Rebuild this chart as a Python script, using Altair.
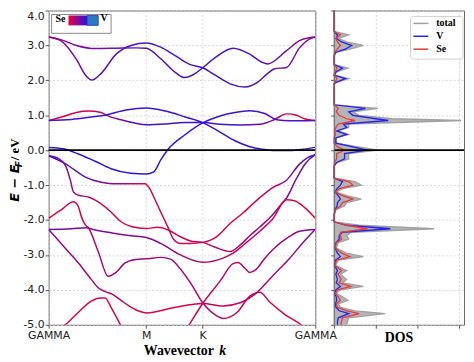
import altair as alt
import pandas as pd

# ---------------- axis data ----------------
k_ticks = [0.0, 0.5774, 0.9107, 1.5774]
k_labels = ["GAMMA", "M", "K", "GAMMA"]
e_ticks = [-5, -4, -3, -2, -1, 0, 1, 2, 3, 4]
fermi_level = [0.0]
dos_ticks = [0, 1, 2, 3]

# projection colours: weight 0 = Se, weight 1 = V
se_rgb = (236, 0, 60)
v_rgb = (36, 20, 232)

# ---------------- bands: k, E, (k, V-weight) colour stops ----------------
ca_k = [0, 0.076, 0.164, 0.223, 0.256, 0.311, 0.399, 0.487, 0.577, 0.663, 0.751, 0.839, 0.911, 0.985, 1.073, 1.161, 1.237, 1.296, 1.337, 1.407, 1.484, 1.542, 1.577]
ca_e = [3.24, 3.12, 2.6, 2.12, 2.01, 2.2, 2.75, 3.0, 3.07, 2.95, 2.7, 2.45, 2.36, 2.15, 1.9, 1.81, 1.95, 2.2, 2.33, 2.37, 2.93, 3.18, 3.24]
ca_w = [(0, 0.45), (0.25, 0.68), (0.6, 0.8), (1.0, 0.85), (1.3, 0.72), (1.577, 0.45)]

cb_k = [0, 0.076, 0.164, 0.281, 0.399, 0.516, 0.577, 0.663, 0.751, 0.803, 0.868, 0.911, 0.985, 1.091, 1.190, 1.261, 1.296, 1.407, 1.484, 1.542, 1.577]
cb_e = [3.24, 3.16, 3.0, 2.91, 2.92, 2.93, 2.92, 2.62, 2.22, 2.08, 2.2, 2.36, 2.65, 2.92, 2.75, 2.52, 2.47, 2.85, 3.14, 3.22, 3.24]
cb_w = [(0, 0.45), (0.3, 0.6), (0.58, 0.75), (0.9, 0.85), (1.25, 0.72), (1.577, 0.45)]

cr_k = [0, 0.076, 0.164, 0.235, 0.311, 0.334, 0.428, 0.516, 0.577, 0.692, 0.803, 0.911, 1.014, 1.132, 1.249, 1.337, 1.407, 1.466, 1.513, 1.577]
cr_e = [0.85, 0.95, 1.08, 1.12, 1.08, 1.02, 0.87, 0.77, 0.73, 0.75, 0.79, 0.79, 0.74, 0.72, 0.74, 0.88, 1.04, 1.0, 0.9, 0.85]
cr_w = [(0, 0.1), (0.25, 0.12), (0.4, 0.5), (0.577, 0.85), (1.1, 0.85), (1.3, 0.5), (1.4, 0.15), (1.577, 0.1)]

cq_k = [0, 0.135, 0.252, 0.340, 0.457, 0.577, 0.692, 0.809, 0.911, 1.014, 1.102, 1.190, 1.261, 1.337, 1.425, 1.513, 1.577]
cq_e = [0.85, 0.88, 0.95, 1.01, 1.15, 1.21, 1.12, 0.95, 0.79, 0.52, 0.27, 0.1, 0.03, -0.01, -0.01, 0.03, 0.08]
cq_w = [(0, 0.8), (0.577, 0.9), (1.577, 0.9)]

cp_k = [0, 0.088, 0.176, 0.281, 0.369, 0.487, 0.577, 0.622, 0.663, 0.702, 0.809, 0.911, 1.014, 1.102, 1.190, 1.278, 1.349, 1.425, 1.577]
cp_e = [0.08, 0.04, -0.11, -0.33, -0.53, -0.66, -0.68, -0.62, -0.28, 0.0, 0.45, 0.78, 0.98, 1.08, 1.13, 1.05, 0.87, 0.84, 0.85]
cp_w = [(0, 0.9), (0.9, 0.92), (1.3, 0.8), (1.577, 0.7)]

v2_k = [0, 0.100, 0.217, 0.311, 0.375, 0.487, 0.569, 0.598, 0.622, 0.663, 0.704, 0.739, 0.780, 0.839, 0.911, 0.997, 1.073, 1.149, 1.249, 1.325, 1.407, 1.484, 1.530, 1.577]
v2_e = [-0.16, -0.39, -0.77, -0.92, -0.96, -0.96, -0.96, -1.1, -1.34, -1.77, -2.19, -2.55, -2.67, -2.67, -2.64, -2.47, -2.1, -1.8, -1.36, -1.07, -0.86, -0.4, -0.22, -0.13]
v2_w = [(0, 0.88), (0.2, 0.72), (0.4, 0.45), (0.57, 0.12), (1.2, 0.08), (1.35, 0.3), (1.45, 0.6), (1.577, 0.88)]

v3_k = [0, 0.059, 0.100, 0.129, 0.147, 0.176, 0.235, 0.276, 0.369, 0.428, 0.493, 0.577, 0.645, 0.704, 0.780, 0.839, 0.911, 0.985, 1.073, 1.132, 1.190, 1.249, 1.325, 1.384, 1.407, 1.466, 1.519, 1.577]
v3_e = [-0.16, -0.24, -0.44, -0.87, -1.2, -1.29, -1.34, -1.43, -1.77, -2.05, -2.19, -2.24, -2.21, -2.28, -2.48, -2.6, -2.64, -2.78, -2.9, -2.72, -2.45, -2.2, -1.85, -1.5, -1.37, -0.81, -0.38, -0.13]
v3_w = [(0, 0.8), (0.12, 0.45), (0.3, 0.15), (0.577, 0.1), (0.911, 0.2), (1.2, 0.4), (1.4, 0.5), (1.577, 0.72)]

v4_k = [0, 0.135, 0.223, 0.264, 0.375, 0.487, 0.577, 0.663, 0.780, 0.911, 1.032, 1.091, 1.161, 1.249, 1.325, 1.407, 1.454, 1.513, 1.577]
v4_e = [-2.27, -2.25, -2.22, -2.27, -2.37, -2.45, -2.5, -2.67, -3.0, -3.21, -3.09, -2.95, -2.68, -2.32, -1.97, -1.42, -1.45, -1.64, -1.95]
v4_w = [(0, 0.6), (0.577, 0.55), (0.911, 0.3), (1.2, 0.2), (1.4, 0.06), (1.577, 0.04)]

v5_k = [0, 0.076, 0.147, 0.176, 0.194, 0.217, 0.235, 0.293, 0.352, 0.399, 0.452, 0.516, 0.577, 0.663, 0.721, 0.762, 0.839, 0.911, 0.997, 1.032, 1.114, 1.190, 1.231, 1.249, 1.308, 1.396, 1.484, 1.577]
v5_e = [-1.95, -1.7, -1.48, -1.62, -1.91, -2.14, -2.22, -2.9, -3.61, -3.5, -3.23, -3.13, -3.11, -3.07, -3.12, -3.3, -3.8, -4.37, -4.75, -4.82, -4.65, -4.18, -4.08, -4.07, -4.35, -4.7, -4.97, -5.35]
v5_w = [(0, 0.04), (0.15, 0.06), (0.25, 0.3), (0.45, 0.4), (0.577, 0.38), (0.9, 0.25), (1.2, 0.15), (1.577, 0.1)]

v6_k = [0, 0.088, 0.176, 0.252, 0.293, 0.334, 0.375, 0.428, 0.475, 0.528, 0.577, 0.739, 0.911, 1.032, 1.132, 1.231, 1.278, 1.325, 1.425, 1.513, 1.577]
v6_e = [-2.27, -2.75, -3.23, -3.7, -3.94, -4.05, -4.12, -4.3, -4.46, -4.6, -4.66, -4.51, -4.39, -4.46, -4.37, -4.08, -3.85, -3.6, -3.1, -2.6, -2.27]
v6_w = [(0, 0.55), (0.3, 0.3), (0.577, 0.06), (0.911, 0.12), (1.3, 0.3), (1.577, 0.55)]

v7_k = [0, 0.047, 0.088, 0.164, 0.252, 0.305, 0.334, 0.369, 0.428, 0.487, 0.577, 0.721, 0.821, 0.911, 1.014, 1.091, 1.120, 1.161, 1.190, 1.226, 1.278, 1.325, 1.425, 1.484, 1.577]
v7_e = [-5.3, -5.1, -5.03, -4.7, -4.32, -4.23, -4.23, -4.5, -5.03, -5.5, -6.3, -5.8, -5.08, -4.39, -3.75, -3.25, -3.22, -3.38, -3.5, -3.42, -3.1, -2.85, -2.47, -2.32, -2.27]
v7_w = [(0, 0.05), (0.5, 0.08), (0.911, 0.18), (1.2, 0.3), (1.577, 0.55)]

band_list = [
    (ca_k, ca_e, ca_w), (cb_k, cb_e, cb_w), (cr_k, cr_e, cr_w), (cq_k, cq_e, cq_w),
    (cp_k, cp_e, cp_w), (v2_k, v2_e, v2_w), (v3_k, v3_e, v3_w), (v4_k, v4_e, v4_w),
    (v5_k, v5_e, v5_w), (v6_k, v6_e, v6_w), (v7_k, v7_e, v7_w),
]

# ---------------- DOS ----------------
dos_e = [4.0, 3.4, 3.3, 3.2, 3.1, 3.0, 2.9, 2.8, 2.7, 2.45, 2.35, 2.25, 2.15, 2.05, 1.95, 1.9, 1.3, 1.2, 1.1, 1.0, 0.9, 0.85, 0.75, 0.65, 0.55, 0.45, 0.35, 0.2, 0.1, 0.0, -0.1, -0.25, -0.35, -0.45, -0.8, -0.9, -1.0, -1.1, -1.2, -1.3, -1.4, -1.5, -1.6, -1.7, -1.85, -2.05, -2.15, -2.25, -2.35, -2.45, -2.55, -2.65, -2.8, -2.95, -3.05, -3.15, -3.3, -3.45, -3.55, -3.7, -3.8, -3.9, -4.0, -4.1, -4.2, -4.3, -4.4, -4.5, -4.6, -4.68, -4.8, -4.9, -5.0]
dos_total = [0, 0, 0.35, 0.1, 0.3, 0.7, 0.4, 0.05, 0, 0, 0.33, 0.08, 0, 0.35, 0.08, 0, 0, 1.05, 0.45, 0.6, 1.4, 3.05, 0.35, 0.35, 0.08, 0.35, 0.05, 0.05, 0.55, 1.05, 0.35, 0.35, 0.08, 0, 0, 0.5, 0.65, 0.2, 0.05, 0.3, 0.65, 0.3, 0.25, 0.05, 0, 0, 0.6, 2.4, 0.4, 0.3, 0.35, 0.1, 0.05, 0.3, 0.7, 0.1, 0.03, 0.3, 0.15, 0.3, 0.2, 0.7, 0.15, 0.05, 0.2, 0.33, 0.1, 0.15, 0.5, 1.22, 0.35, 0.32, 0.3]
dos_v = [0, 0, 0.08, 0.05, 0.18, 0.42, 0.28, 0.03, 0, 0, 0.2, 0.05, 0, 0.27, 0.06, 0, 0, 0.75, 0.35, 0.45, 1.0, 1.3, 0.22, 0.3, 0.06, 0.3, 0.04, 0.04, 0.42, 0.8, 0.25, 0.25, 0.06, 0, 0, 0.2, 0.15, 0.07, 0.02, 0.1, 0.15, 0.08, 0.07, 0.02, 0, 0, 0.3, 1.35, 0.2, 0.12, 0.12, 0.04, 0.02, 0.08, 0.15, 0.03, 0.01, 0.08, 0.04, 0.08, 0.05, 0.15, 0.04, 0.01, 0.05, 0.06, 0.03, 0.04, 0.12, 0.35, 0.1, 0.08, 0.08]
dos_se = [0, 0, 0.15, 0.04, 0.08, 0.15, 0.08, 0.01, 0, 0, 0.07, 0.02, 0, 0.07, 0.02, 0, 0, 0.1, 0.05, 0.12, 0.3, 0.5, 0.1, 0.04, 0.01, 0.03, 0, 0, 0.08, 0.25, 0.06, 0.06, 0.01, 0, 0, 0.35, 0.45, 0.12, 0.03, 0.2, 0.45, 0.2, 0.15, 0.03, 0, 0, 0.3, 0.8, 0.15, 0.15, 0.18, 0.05, 0.03, 0.18, 0.38, 0.06, 0.02, 0.18, 0.09, 0.17, 0.12, 0.4, 0.08, 0.03, 0.1, 0.15, 0.05, 0.08, 0.3, 0.6, 0.2, 0.18, 0.16]

legend_names = ["total", "V", "Se"]
legend_colors = ["#a0a0a0", "#2222ee", "#e83a3a"]

# ---------------- helpers ----------------
K_END = k_ticks[-1]
W_BAND, W_DOS, H = 269, 131, 317


def mix(f):
    c = [round(s + (v - s) * f) for s, v in zip(se_rgb, v_rgb)]
    return "#%02x%02x%02x" % tuple(c)


label_expr = " : ".join(
    f"datum.value < {(k_ticks[i] + k_ticks[i + 1]) / 2:.4f} ? '{k_labels[i]}'" for i in range(len(k_ticks) - 1)
) + f" : '{k_labels[-1]}'"

axis_common = dict(domain=False, tickColor="#555555", tickSize=3.5, labelFont="DejaVu Sans",
                   labelFontSize=11, labelColor="#222222", gridColor="#cccccc", gridDash=[2, 2],
                   gridWidth=0.8, title=None, labelOverlap=False)

xs = alt.Scale(domain=[0, K_END], nice=False, zero=False)
ys = alt.Scale(domain=[-5, 4], nice=False, zero=False)
x_axis = alt.Axis(values=k_ticks, labelExpr=label_expr, labelPadding=1, labelFlush=False, **axis_common)
y_axis = alt.Axis(values=e_ticks, labelPadding=1,
                  labelExpr="replace(format(datum.value, '.1f'), '\u2212', '-')",
                  labelBaseline={"condition": {"test": f"datum.value >= {e_ticks[-1]}", "value": "top"},
                                 "value": "middle"},
                  **axis_common)

one = pd.DataFrame({"v": [0]})

layers = []
for ks, es, ws in band_list:
    grad = alt.LinearGradient(
        gradient="linear", x1=0, x2=1, y1=0, y2=0,
        stops=[alt.GradientStop(offset=min(max(k / K_END, 0), 1), color=mix(f)) for k, f in ws])
    layers.append(
        alt.Chart(pd.DataFrame({"k": ks, "E": es}))
        .mark_line(stroke=grad, strokeWidth=1.5, interpolate="monotone", clip=True)
        .encode(x=alt.X("k:Q", scale=xs, axis=x_axis), y=alt.Y("E:Q", scale=ys, axis=y_axis))
    )

fermi_left = alt.Chart(pd.DataFrame({"E": fermi_level})).mark_rule(color="black", strokeWidth=1.8).encode(
    y=alt.Y("E:Q", scale=ys, axis=y_axis))
layers.append(fermi_left)

# colour-bar legend (Se -> V)
layers.append(alt.Chart(one).mark_rect(fill="white", stroke="#888888", strokeWidth=1).encode(
    x=alt.value(3), x2=alt.value(63), y=alt.value(4), y2=alt.value(23)))
cb_grad = alt.LinearGradient(gradient="linear", x1=0, x2=1, y1=0, y2=0,
                             stops=[alt.GradientStop(offset=0, color=mix(0.0)),
                                    alt.GradientStop(offset=0.5, color=mix(0.5)),
                                    alt.GradientStop(offset=1, color=mix(1.0))])
layers.append(alt.Chart(one).mark_rect(fill=cb_grad).encode(
    x=alt.value(20), x2=alt.value(39), y=alt.value(5), y2=alt.value(15)))
layers.append(alt.Chart(one).mark_rect(fill="#2a7ac0", stroke="#2030c0", strokeWidth=0.8).encode(
    x=alt.value(39), x2=alt.value(50), y=alt.value(5), y2=alt.value(15)))
layers.append(alt.Chart(one).mark_text(text="Se", font="Liberation Serif", fontWeight="bold", fontSize=10,
                                       align="center", baseline="middle").encode(
    x=alt.value(12), y=alt.value(9)))
layers.append(alt.Chart(one).mark_text(text="V", font="Liberation Serif", fontWeight="bold", fontSize=10,
                                       align="center", baseline="middle").encode(
    x=alt.value(56), y=alt.value(8)))

# axis titles
layers.append(alt.Chart(one).mark_text(text="E \u2212 E", font="DejaVu Sans", fontStyle="italic",
                                       fontWeight="bold", fontSize=13, angle=270, align="left",
                                       baseline="middle").encode(x=alt.value(-34), y=alt.value(193)))
layers.append(alt.Chart(one).mark_text(text="F", font="DejaVu Sans", fontStyle="italic",
                                       fontWeight="bold", fontSize=9, angle=270, align="left",
                                       baseline="middle").encode(x=alt.value(-30), y=alt.value(158)))
layers.append(alt.Chart(one).mark_text(text=" / eV", font="Liberation Serif",
                                       fontWeight="bold", fontSize=13, angle=270, align="left",
                                       baseline="middle").encode(x=alt.value(-34), y=alt.value(151)))
layers.append(alt.Chart(one).mark_text(text="Wavevector", font="Liberation Serif", fontWeight="bold",
                                       fontSize=14, align="left", baseline="alphabetic").encode(
    x=alt.value(96), y=alt.value(347)))
layers.append(alt.Chart(one).mark_text(text="k", font="Liberation Serif", fontWeight="bold", fontStyle="italic",
                                       fontSize=14, align="left", baseline="alphabetic").encode(
    x=alt.value(172), y=alt.value(347)))

left = alt.layer(*layers).properties(width=W_BAND, height=H)

# ---------------- DOS panel ----------------
dos_df = pd.DataFrame({"E": dos_e, "total": dos_total, "V": dos_v, "Se": dos_se})
dx = alt.Scale(domain=[0, 3.12], nice=False, zero=False)
dx_axis = alt.Axis(values=dos_ticks, labels=False, **axis_common)
dy_axis = alt.Axis(values=e_ticks, labels=False, **axis_common)

dos_layers = [
    alt.Chart(dos_df).mark_area(orient="horizontal", color="#a8a8a8", opacity=0.85).encode(
        x=alt.X("total:Q", scale=dx, axis=dx_axis), y=alt.Y("E:Q", scale=ys, axis=dy_axis)),
]
for name, col in zip(legend_names, legend_colors):
    dos_layers.append(
        alt.Chart(dos_df).mark_line(color=col, strokeWidth=1.3).encode(
            x=alt.X(f"{name}:Q", scale=dx, axis=dx_axis), y=alt.Y("E:Q", scale=ys, axis=dy_axis),
            order=alt.Order("E:Q")))
dos_layers.append(alt.Chart(pd.DataFrame({"E": fermi_level})).mark_rule(color="black", strokeWidth=1.8).encode(
    y=alt.Y("E:Q", scale=ys, axis=dy_axis)))
# frame edge drawn over the zero-DOS lines
dos_layers.append(alt.Chart(one).mark_rule(color="#666666", strokeWidth=1).encode(
    x=alt.value(0), y=alt.value(0), y2=alt.value(H)))

# legend
dos_layers.append(alt.Chart(one).mark_rect(fill="white", stroke="#cccccc", cornerRadius=3, opacity=0.9).encode(
    x=alt.value(77), x2=alt.value(130), y=alt.value(6), y2=alt.value(49)))
for i, (name, col) in enumerate(zip(legend_names, legend_colors)):
    yy = 13 + i * 13
    dos_layers.append(alt.Chart(one).mark_rule(color=col, strokeWidth=1.5).encode(
        x=alt.value(80), x2=alt.value(95), y=alt.value(yy)))
    dos_layers.append(alt.Chart(one).mark_text(text=name, font="Liberation Serif", fontWeight="bold",
                                               fontSize=10, align="left", baseline="middle").encode(
        x=alt.value(103), y=alt.value(yy)))
dos_layers.append(alt.Chart(one).mark_text(text="DOS", font="Liberation Serif", fontWeight="bold",
                                           fontSize=14, align="center", baseline="alphabetic").encode(
    x=alt.value(W_DOS / 2), y=alt.value(334)))

right = alt.layer(*dos_layers).properties(width=W_DOS, height=H)

chart = (
    alt.hconcat(left, right, spacing=19, bounds="flush")
    .configure_view(stroke="#666666", strokeWidth=1)
    .properties(padding={"left": 0, "top": -3, "right": 0, "bottom": 0})
)

chart.save("out.html", embed_options={"renderer": "svg", "actions": False})
